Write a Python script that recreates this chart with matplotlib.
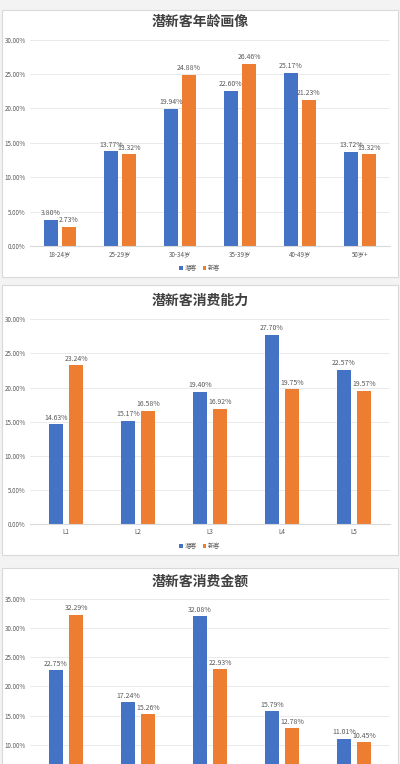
import matplotlib.pyplot as plt
import matplotlib.patches as mpatches
import numpy as np

plt.rcParams['font.family'] = ['Noto Sans CJK SC', 'DejaVu Sans']

BLUE = '#4472c4'
ORANGE = '#ed7d31'

age_cats = ['18-24岁', '25-29岁', '30-34岁', '35-39岁', '40-49岁', '50岁+']
age_old = [3.80, 13.77, 19.94, 22.60, 25.17, 13.72]
age_new = [2.73, 13.32, 24.88, 26.46, 21.23, 13.32]

power_cats = ['L1', 'L2', 'L3', 'L4', 'L5']
power_old = [14.63, 15.17, 19.40, 27.70, 22.57]
power_new = [23.24, 16.58, 16.92, 19.75, 19.57]

amount_cats = ['L1', 'L2', 'L3', 'L4', 'L5']
amount_old = [22.75, 17.24, 32.08, 15.79, 11.01]
amount_new = [32.29, 15.26, 22.93, 12.78, 10.45]

fig = plt.figure(figsize=(4, 7.64), dpi=100)
fig.patch.set_facecolor('#f3f3f3')
H = 764.0

def box(y0, y1):
    fig.patches.append(mpatches.Rectangle((2 / 400, 1 - y1 / H), 396 / 400, (y1 - y0) / H,
                                          transform=fig.transFigure, facecolor='white',
                                          edgecolor='#d9d9d9', lw=0.8, zorder=-5))

def panel(rect, title, title_y, cats, old, new, ymax, width, off, legend_y=None, show_x=True):
    ax = fig.add_axes(rect)
    ax.patch.set_alpha(0)
    x = np.arange(len(cats))
    ax.bar(x - off, old, width, color=BLUE, label='潜客')
    ax.bar(x + off, new, width, color=ORANGE, label='新客')
    for xi, v in zip(x, old):
        ax.text(xi - off, v + 0.4, f'{v:.2f}%', ha='center', va='bottom', fontsize=5, color='#595959')
    for xi, v in zip(x, new):
        ax.text(xi + off, v + 0.4, f'{v:.2f}%', ha='center', va='bottom', fontsize=5, color='#595959')
    ax.set_ylim(0, ymax)
    ax.set_yticks(np.arange(0, ymax + 0.1, 5))
    ax.set_yticklabels([f'{t:.2f}%' for t in np.arange(0, ymax + 0.1, 5)], fontsize=4.5, color='#595959')
    ax.set_xlim(-0.5, len(cats) - 0.5)
    ax.set_xticks(x)
    ax.set_xticklabels(cats if show_x else [], fontsize=4.5, color='#595959')
    ax.tick_params(length=0, pad=3)
    ax.grid(axis='y', color='#e6e6e6', lw=0.6)
    ax.set_axisbelow(True)
    for s in ['top', 'right', 'left']:
        ax.spines[s].set_visible(False)
    ax.spines['bottom'].set_color('#d9d9d9')
    fig.text(0.5, 1 - title_y / H, title, ha='center', va='center', fontsize=10,
             fontweight='bold', color='#404040')
    if legend_y is not None:
        fig.legend(*ax.get_legend_handles_labels(), loc='center', bbox_to_anchor=(0.5, 1 - legend_y / H),
                   ncol=2, frameon=False, fontsize=4.5, handlelength=0.6, handleheight=0.6,
                   columnspacing=0.8, handletextpad=0.3, labelcolor='#595959')
    return ax

box(10, 277)
box(285, 555)
box(568, 800)

panel([0.075, 0.678, 0.9, 0.270], '潜新客年龄画像', 22, age_cats, age_old, age_new, 30, 0.22, 0.15, 268)
panel([0.075, 0.314, 0.9, 0.268], '潜新客消费能力', 301, power_cats, power_old, power_new, 30, 0.2, 0.14, 546)
panel([0.075, -0.051, 0.9, 0.267], '潜新客消费金额', 582, amount_cats, amount_old, amount_new, 35, 0.2, 0.14,
      show_x=False)

fig.savefig('out.png', dpi=100, facecolor=fig.get_facecolor())
